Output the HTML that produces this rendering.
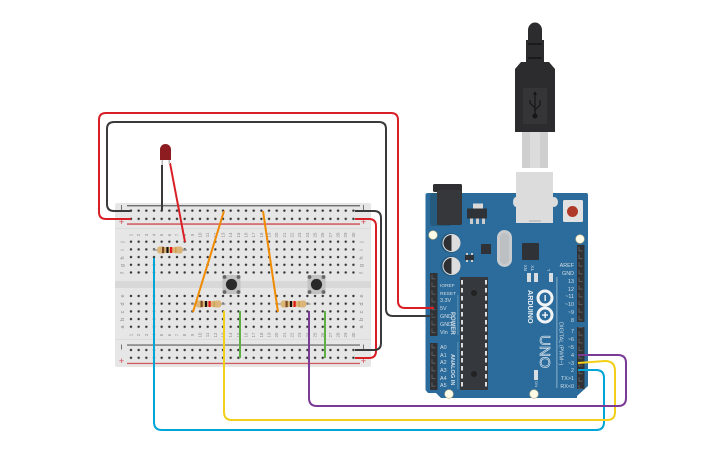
<!DOCTYPE html>
<html><head><meta charset="utf-8"><style>
html,body{margin:0;padding:0;background:#fff;width:725px;height:453px;overflow:hidden}
svg{display:block}
text{font-family:"Liberation Sans",sans-serif}
.w{fill:none;stroke-width:2;stroke-linejoin:round}
.l{font-size:5.4px;fill:#d3dee6;text-anchor:end}
.r{font-size:5.4px;fill:#d3dee6}
.n text{font-size:4.4px;fill:#8a8a8a;text-anchor:middle}
.p text{font-size:5.5px;fill:#8a8a8a;text-anchor:middle}
</style></head><body>
<svg width="725" height="453" viewBox="0 0 725 453" xmlns="http://www.w3.org/2000/svg">
<defs>
<pattern id="g1" x="127.17" y="237.85" width="7.67" height="7.7" patternUnits="userSpaceOnUse"><circle cx="3.83" cy="3.85" r="1.2" fill="#333"/></pattern>
<pattern id="g2" x="127.17" y="292.15" width="7.67" height="7.7" patternUnits="userSpaceOnUse"><circle cx="3.83" cy="3.85" r="1.2" fill="#333"/></pattern>
<pattern id="r1" x="127.17" y="206.7" width="7.67" height="8.2" patternUnits="userSpaceOnUse"><circle cx="3.83" cy="4" r="1.2" fill="#333"/></pattern>
<pattern id="r2" x="127.17" y="346" width="7.67" height="7.8" patternUnits="userSpaceOnUse"><circle cx="3.83" cy="4" r="1.2" fill="#333"/></pattern>
<pattern id="hL" x="430" y="273" width="7.5" height="7.67" patternUnits="userSpaceOnUse"><rect width="7.5" height="7.67" fill="#303235"/><path d="M2 1.800V5.800H5.500" fill="none" stroke="#5a5c5f" stroke-width="1"/></pattern>
<pattern id="hR" x="577" y="245" width="7.500" height="7.67" patternUnits="userSpaceOnUse"><rect width="7.5" height="7.67" fill="#303235"/><path d="M2 1.800V5.800H5.500" fill="none" stroke="#5a5c5f" stroke-width="1"/></pattern>
<g id="res"><rect x="-17" y="-.7" width="34" height="1.400" fill="#9a9a9a"/><path d="M-11 -3.500h3q2 .8 4 .8h8q2 0 4-.8h3q2 1 2 3.500t-2 3.500h-3q-2-.8-4-.8h-8q-2 0-4 .8h-3q-2-1-2-3.500t2-3.500z" fill="#dcb57a"/><rect x="-8" y="-3.200" width="2.200" height="6.400" fill="#7b4a1e"/><rect x="-3.600" y="-3" width="2.200" height="6" fill="#111"/><rect x="0" y="-3" width="2.200" height="6" fill="#e3141c"/><rect x="5" y="-3.200" width="1.400" height="6.400" fill="#c9a24a"/></g>
<g id="btn"><rect x="-9" y="-9.500" width="18" height="19" rx="1" fill="#c2c2c2"/><circle cx="-7" cy="-7.500" r="1.900" fill="#666"/><circle cx="7" cy="-7.500" r="1.900" fill="#666"/><circle cx="-7" cy="7.500" r="1.900" fill="#666"/><circle cx="7" cy="7.500" r="1.900" fill="#666"/><circle r="5.600" fill="#2a2a2a"/></g>
<g id="nums" class="n">
<text transform="translate(132.500,0) rotate(-90)">1</text><text transform="translate(140.200,0) rotate(-90)">2</text><text transform="translate(147.800,0) rotate(-90)">3</text><text transform="translate(155.500,0) rotate(-90)">4</text><text transform="translate(163.200,0) rotate(-90)">5</text><text transform="translate(170.900,0) rotate(-90)">6</text><text transform="translate(178.500,0) rotate(-90)">7</text><text transform="translate(186.200,0) rotate(-90)">8</text><text transform="translate(193.900,0) rotate(-90)">9</text><text transform="translate(201.500,0) rotate(-90)">10</text><text transform="translate(209.200,0) rotate(-90)">11</text><text transform="translate(216.900,0) rotate(-90)">12</text><text transform="translate(224.500,0) rotate(-90)">13</text><text transform="translate(232.200,0) rotate(-90)">14</text><text transform="translate(239.900,0) rotate(-90)">15</text><text transform="translate(247.500,0) rotate(-90)">16</text><text transform="translate(255.200,0) rotate(-90)">17</text><text transform="translate(262.900,0) rotate(-90)">18</text><text transform="translate(270.500,0) rotate(-90)">19</text><text transform="translate(278.200,0) rotate(-90)">20</text><text transform="translate(285.900,0) rotate(-90)">21</text><text transform="translate(293.500,0) rotate(-90)">22</text><text transform="translate(301.200,0) rotate(-90)">23</text><text transform="translate(308.900,0) rotate(-90)">24</text><text transform="translate(316.500,0) rotate(-90)">25</text><text transform="translate(324.200,0) rotate(-90)">26</text><text transform="translate(331.900,0) rotate(-90)">27</text><text transform="translate(339.500,0) rotate(-90)">28</text><text transform="translate(347.200,0) rotate(-90)">29</text><text transform="translate(354.900,0) rotate(-90)">30</text>
</g>
<g id="lets" class="p">
<text transform="translate(0,242) rotate(-90)">j</text><text transform="translate(0,250) rotate(-90)">i</text><text transform="translate(0,258) rotate(-90)">h</text><text transform="translate(0,265.500) rotate(-90)">g</text><text transform="translate(0,273) rotate(-90)">f</text>
<text transform="translate(0,296) rotate(-90)">e</text><text transform="translate(0,304) rotate(-90)">d</text><text transform="translate(0,312) rotate(-90)">c</text><text transform="translate(0,319.500) rotate(-90)">b</text><text transform="translate(0,327) rotate(-90)">a</text>
</g>
</defs>

<!-- breadboard -->
<rect x="115" y="203" width="256" height="164" rx="2" fill="#e6e6e6"/>
<rect x="115" y="281" width="256" height="7" fill="#d8d8d8"/>
<rect x="115" y="228" width="256" height="1" fill="#dcdcdc"/>
<rect x="115" y="339" width="256" height="1" fill="#dcdcdc"/>
<rect x="127" y="205" width="233" height="1.400" fill="#6e6e6e"/>
<rect x="127" y="223.400" width="233" height="1.300" fill="#cf3f46"/>
<rect x="127" y="344.400" width="233" height="1.300" fill="#6e6e6e"/>
<rect x="127" y="362.800" width="233" height="1.300" fill="#cf5a60"/>
<rect x="127.170" y="206.700" width="230.100" height="16.400" fill="url(#r1)"/>
<rect x="127.170" y="346" width="230.100" height="15.600" fill="url(#r2)"/>
<rect x="127.170" y="237.850" width="230.100" height="38.500" fill="url(#g1)"/>
<rect x="127.170" y="292.150" width="230.100" height="38.500" fill="url(#g2)"/>
<g fill="#d0474e" font-size="9" text-anchor="middle"><text x="121.500" y="225">+</text><text x="121.500" y="364">+</text><text x="363.500" y="225">+</text><text x="363.500" y="364">+</text></g>
<g fill="#555"><rect x="121" y="205" width=".8" height="5"/><rect x="121" y="344.500" width=".8" height="5"/><rect x="363" y="205" width=".8" height="5"/><rect x="363" y="344.500" width=".8" height="5"/></g>
<use href="#nums" x="0" y="235"/>
<use href="#nums" x="0" y="335"/>
<use href="#lets" x="124"/>
<use href="#lets" x="363"/>

<use href="#btn" x="231.500" y="284.500"/>
<use href="#btn" x="316.500" y="284.500"/>
<use href="#res" x="170" y="250"/>
<use href="#res" x="208.500" y="304"/>
<use href="#res" x="293.500" y="304"/>

<!-- arduino -->
<path d="M428 193H586q2 0 2 2V386L577 396V398H441L436 393H428L425.500 390V195q0-2 2.500-2z" fill="#2b6c9c"/>
<rect x="516" y="172" width="37" height="51" fill="#dcdcdc"/>
<ellipse cx="516" cy="202" rx="3" ry="5" fill="#dcdcdc"/><ellipse cx="554" cy="202" rx="4" ry="5" fill="#dcdcdc"/>
<rect x="529" y="220.500" width="12" height="1" fill="#aaa"/>
<rect x="563" y="200" width="20" height="22" rx="1.500" fill="#e2e2e2"/>
<circle cx="572.500" cy="211.500" r="5.500" fill="#b03a2a"/>
<rect x="430" y="193" width="22" height="33" rx="3" fill="#265b80"/>
<rect x="433" y="184" width="29" height="8" rx="1.500" fill="#2f2f31"/>
<rect x="437" y="190" width="25" height="35" rx="2" fill="#35373a"/>
<rect x="473" y="203.500" width="10" height="5" fill="#d9d9d9"/>
<rect x="467" y="208.500" width="20" height="10" fill="#2f3338"/>
<rect x="470" y="218.500" width="3" height="5.500" fill="#ccc"/><rect x="476" y="218.500" width="3" height="5.500" fill="#ccc"/><rect x="482" y="218.500" width="3" height="5.500" fill="#ccc"/>
<circle cx="450.500" cy="243" r="10" fill="#265b80"/><circle cx="451.500" cy="243" r="9" fill="#ddd"/><path d="M451.500 235a8 8 0 0 0 0 16z" fill="#2d2f33"/>
<circle cx="450.500" cy="266" r="10" fill="#265b80"/><circle cx="451.500" cy="266" r="9" fill="#ddd"/><path d="M451.500 258a8 8 0 0 0 0 16z" fill="#2d2f33"/>
<rect x="497" y="230" width="15" height="37" rx="7.500" fill="#c9ccce"/><rect x="500" y="233" width="9" height="31" rx="4.500" fill="#bcc0c2"/>
<rect x="481" y="244" width="10" height="10" fill="#2f3338"/>
<rect x="465" y="255" width="9" height="5" fill="#2f3338"/><rect x="466" y="253" width="2" height="2" fill="#ccc"/><rect x="471" y="253" width="2" height="2" fill="#ccc"/><rect x="466" y="260" width="2" height="2" fill="#ccc"/><rect x="471" y="260" width="2" height="2" fill="#ccc"/>
<rect x="522" y="243" width="17" height="17" rx="1" fill="#2f3338"/>
<rect x="460" y="277" width="28" height="113" rx="1" fill="#35383c"/>
<circle cx="474" cy="293" r="3" fill="#222"/><circle cx="474" cy="374" r="3" fill="#222"/>
<g fill="#ddd"><rect x="461" y="280" width="2" height="4.500"/><rect x="485" y="280" width="2" height="4.500"/><rect x="461" y="288" width="2" height="4.500"/><rect x="485" y="288" width="2" height="4.500"/><rect x="461" y="296" width="2" height="4.500"/><rect x="485" y="296" width="2" height="4.500"/><rect x="461" y="304" width="2" height="4.500"/><rect x="485" y="304" width="2" height="4.500"/><rect x="461" y="312" width="2" height="4.500"/><rect x="485" y="312" width="2" height="4.500"/><rect x="461" y="320" width="2" height="4.500"/><rect x="485" y="320" width="2" height="4.500"/><rect x="461" y="327" width="2" height="4.500"/><rect x="485" y="327" width="2" height="4.500"/><rect x="461" y="335" width="2" height="4.500"/><rect x="485" y="335" width="2" height="4.500"/><rect x="461" y="343" width="2" height="4.500"/><rect x="485" y="343" width="2" height="4.500"/><rect x="461" y="351" width="2" height="4.500"/><rect x="485" y="351" width="2" height="4.500"/><rect x="461" y="358" width="2" height="4.500"/><rect x="485" y="358" width="2" height="4.500"/><rect x="461" y="366" width="2" height="4.500"/><rect x="485" y="366" width="2" height="4.500"/><rect x="461" y="374" width="2" height="4.500"/><rect x="485" y="374" width="2" height="4.500"/><rect x="461" y="382" width="2" height="4.500"/><rect x="485" y="382" width="2" height="4.500"/></g>
<rect x="430" y="273" width="7.500" height="63" fill="url(#hL)"/>
<rect x="430" y="343" width="7.500" height="47" fill="url(#hL)"/>
<rect x="577" y="245" width="7.500" height="77" fill="url(#hR)"/>
<rect x="577" y="327" width="7.500" height="62" fill="url(#hR)"/>
<g fill="#fffbe9" stroke="#c9b88a" stroke-width=".6"><circle cx="433" cy="235" r="4.300"/><circle cx="580" cy="239" r="4.300"/><circle cx="449" cy="394" r="4.300"/><circle cx="534" cy="394" r="4.300"/></g>
<g fill="#d7dde0"><rect x="527" y="273" width="4" height="9"/><rect x="534" y="273" width="4" height="9"/><rect x="549" y="273" width="4" height="9"/><rect x="534" y="370" width="4" height="10"/></g>
<g class="r" style="font-size:4px"><text class="r" style="font-size:4.500px" transform="translate(527,271) rotate(-90)">RX</text><text class="r" style="font-size:4.500px" transform="translate(534,271) rotate(-90)">TX</text><text class="r" style="font-size:4.500px" transform="translate(550,271) rotate(-90)">L</text><text class="r" style="font-size:4px" transform="translate(535,381) rotate(90)">ON</text></g>
<text class="l" x="574" y="267">AREF</text><text class="l" x="574" y="275">GND</text><text class="l" x="574" y="283">13</text><text class="l" x="574" y="291">12</text><text class="l" x="574" y="298">~11</text><text class="l" x="574" y="306">~10</text><text class="l" x="574" y="314">~9</text><text class="l" x="574" y="322">8</text>
<text class="l" x="574" y="333">7</text><text class="l" x="574" y="341">~6</text><text class="l" x="574" y="349">~5</text><text class="l" x="574" y="357">4</text><text class="l" x="574" y="365">~3</text><text class="l" x="574" y="372">2</text><text class="l" x="574" y="380">TX&gt;1</text><text class="l" x="574" y="388">RX&lt;0</text>
<text class="r" x="440" y="287" style="font-size:4.800px">IOREF</text><text class="r" x="440" y="295" style="font-size:4.800px">RESET</text><text class="r" x="440" y="302">3.3V</text><text class="r" x="440" y="310">5V</text><text class="r" x="440" y="318">GND</text><text class="r" x="440" y="326">GND</text><text class="r" x="440" y="334">Vin</text>
<text class="r" x="440" y="349">A0</text><text class="r" x="440" y="357">A1</text><text class="r" x="440" y="364">A2</text><text class="r" x="440" y="372">A3</text><text class="r" x="440" y="380">A4</text><text class="r" x="440" y="387">A5</text>
<text class="r" transform="translate(451,312) rotate(90)" style="font-size:6px;font-weight:bold">POWER</text>
<text class="r" transform="translate(451,354) rotate(90)" style="font-size:5.600px;font-weight:bold">ANALOG IN</text>
<text class="r" transform="translate(559.500,322) rotate(90)" style="font-size:5.600px">DIGITAL (PWM~)</text>
<rect x="556.500" y="277" width=".8" height="111" fill="#a6c3d6"/>
<rect x="457.500" y="295" width=".8" height="40" fill="#6f9dbb"/><rect x="457.500" y="342" width=".8" height="47" fill="#6f9dbb"/>
<text class="r" transform="translate(528,290) rotate(90)" style="font-size:7.200px;font-weight:bold;fill:#e8eef3">ARDUINO</text>
<g fill="none" stroke="#f0f4f6" stroke-width="3"><circle cx="545" cy="298" r="7"/><circle cx="545" cy="315" r="7"/></g>
<rect x="544.500" y="295" width="1.300" height="6" fill="#fff"/>
<rect x="544.500" y="312" width="1.300" height="6" fill="#fff"/><rect x="542" y="314.400" width="6" height="1.300" fill="#fff"/>
<text transform="translate(540,335) rotate(90)" font-size="15" fill="#2b6c9c" stroke="#e8eef3" stroke-width=".6">UNO</text>

<!-- USB plug -->
<rect x="522" y="132" width="26" height="36" fill="#cfcfcf"/><rect x="530" y="132" width="10" height="36" fill="#dcdcdc"/>
<path d="M528 40V30a7 7.500 0 0 1 14 0V40h2V62h5L555 69V132H515V69L521 62h5V40z" fill="#2c2c2e"/>
<rect x="528" y="43" width="14" height="2" rx="1" fill="#1a1a1a"/><rect x="528" y="57" width="14" height="2" rx="1" fill="#1a1a1a"/>
<rect x="523" y="88" width="24" height="36" fill="#353537"/>
<g stroke="#161616" stroke-width="1.200" fill="none"><path d="M535 93V115M535 108L530 103V100M535 110L540 105V100"/></g>
<circle cx="535" cy="116" r="2.500" fill="#161616"/><path d="M535 91l-2 4h4z" fill="#161616"/>

<!-- wires -->
<g class="w">
<path stroke="#d91f26" d="M131 219H106Q99 219 99 212V120Q99 113 106 113H391Q398 113 398 120V301Q398 308 405 308H434"/>
<path stroke="#3a3a3c" d="M131 211H114Q107 211 107 204V129Q107 122 114 122H379Q386 122 386 129V309Q386 316 393 316H434"/>
<path stroke="#d91f26" d="M355 219H369Q376 219 376 226V351Q376 358 369 358H355"/>
<path stroke="#3a3a3c" d="M355 211H374Q381 211 381 218V343Q381 350 374 350H355"/>
<path stroke="#3a3a3c" d="M162 165V211"/>
<path stroke="#d91f26" d="M170 163L185 242"/>
<path stroke="#f08a00" d="M224 211L193 312"/>
<path stroke="#f08a00" d="M263 211L278 312"/>
<path stroke="#5fb043" d="M240 311V358"/>
<path stroke="#5fb043" d="M325 311V358"/>
<path stroke="#00a5d8" d="M154 258V422Q154 430 162 430H596Q604 430 604 422V378Q604 370 596 370H578"/>
<path stroke="#f2cf1a" d="M224 311V412Q224 420 232 420H607Q615 420 615 412V371Q615 361 605 361L578 363"/>
<path stroke="#7b3a96" d="M309 311V398Q309 406 317 406H618Q626 406 626 398V363Q626 355 618 355H578"/>
</g>
<!-- LED -->
<rect x="161.500" y="160" width="1.500" height="5" fill="#bbb"/><rect x="168.500" y="160" width="1.500" height="4" fill="#bbb"/>
<path d="M160 160V149.500a5.500 5.500 0 0 1 11 0V160z" fill="#8c1c20"/>
</svg>
</body></html>
